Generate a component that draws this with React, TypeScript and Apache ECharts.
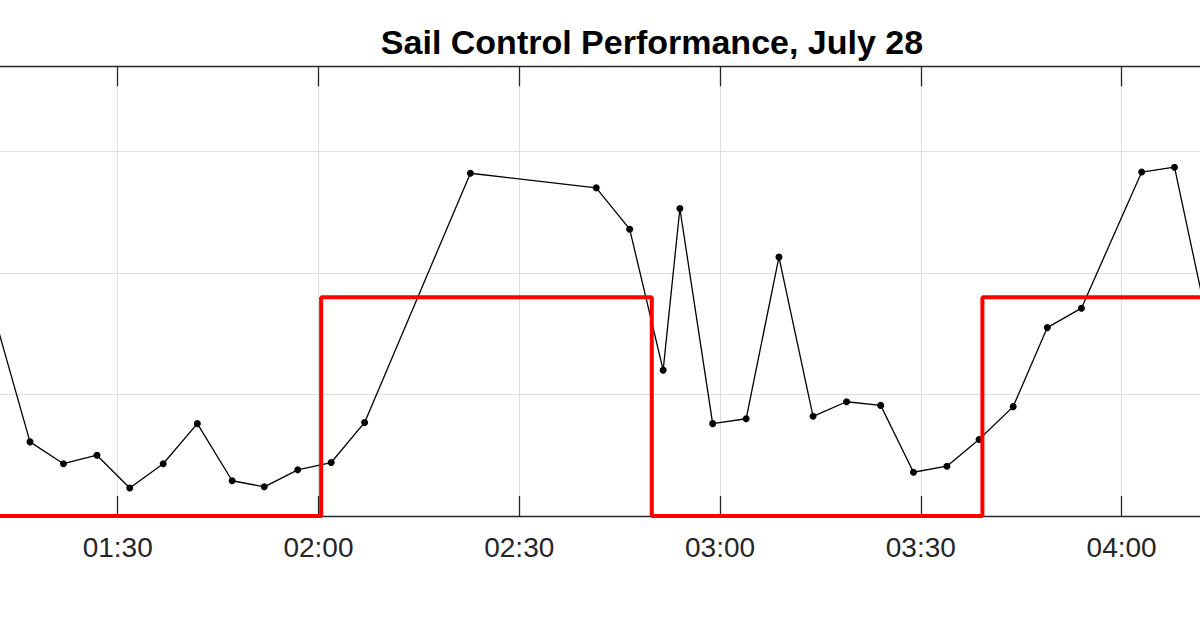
import * as echarts from "echarts";
import React, { useEffect, useRef } from "react";

// minutes after midnight
const sampleMinutes = [
    71.9, 76.9, 81.9, 86.9, 91.8, 96.8, 101.9, 107.1, 111.9, 116.9, 121.9, 126.9, 142.7, 161.5, 166.5, 171.5,
    174.0, 178.9, 183.9, 188.8, 193.9, 198.9, 204.0, 208.9, 213.9, 218.7, 223.8, 228.9, 234.0, 243.0, 247.9, 252.9,
];
const performance = [
    1.58, 0.61, 0.43, 0.5, 0.23, 0.43, 0.76, 0.29, 0.24, 0.38, 0.44, 0.77, 2.82, 2.7, 2.36, 1.2,
    2.53, 0.76, 0.8, 2.13, 0.82, 0.94, 0.91, 0.36, 0.41, 0.63, 0.9, 1.55, 1.71, 2.83, 2.87, 1.58,
];

// sail control on/off (step changes)
const controlMinutes = [60, 120.4, 169.8, 219.2, 270];
const controlLevel = [0, 1.8, 0, 1.8, 1.8];

const X_MIN = 60;
const X_MAX = 270;
const X_STEP = 30;

const FONT = "'Liberation Sans', Arial, Helvetica, sans-serif";
const INK = "#262626";

const hhmm = (m: number) => {
    const h = Math.floor(m / 60);
    const mm = Math.round(m % 60);
    return `${String(h).padStart(2, "0")}:${String(mm).padStart(2, "0")}`;
};

const SailControlChart: React.FC = () => {
    const chartRef = useRef<HTMLDivElement>(null);

    useEffect(() => {
        if (!chartRef.current) return;
        const chart = echarts.init(chartRef.current, undefined, { renderer: "svg" });

        const baseX = {
            type: "value" as const,
            min: X_MIN,
            max: X_MAX,
            interval: X_STEP,
            axisLine: { show: true, lineStyle: { color: INK, width: 1.3 } },
            axisTick: { show: true, inside: true, length: 20, lineStyle: { color: INK, width: 1.3 } },
        };

        chart.setOption({
            animation: false,
            textStyle: { fontFamily: FONT },
            // plot box runs past both page edges, like the cropped original
            grid: {
                left: -83.1,
                right: -122.4,
                top: 66.3,
                bottom: 114,
                containLabel: false,
                outerBoundsMode: "none",
            },
            graphic: [
                {
                    type: "text",
                    x: 652,
                    y: 42,
                    style: {
                        text: "Sail Control Performance, July 28",
                        fill: "#000",
                        font: `bold 34px ${FONT}`,
                        textAlign: "center",
                        textVerticalAlign: "middle",
                    },
                },
            ],
            xAxis: [
                {
                    ...baseX,
                    position: "bottom",
                    axisLabel: {
                        color: INK,
                        fontSize: 28,
                        fontFamily: FONT,
                        margin: 17,
                        showMinLabel: false,
                        showMaxLabel: false,
                        formatter: (v: number) => hhmm(v),
                    },
                    splitLine: { show: true, lineStyle: { color: "#dedede", width: 1 } },
                },
                {
                    ...baseX,
                    position: "top",
                    axisLabel: { show: false },
                    splitLine: { show: false },
                },
            ],
            yAxis: {
                type: "value",
                min: 0,
                max: 3.7,
                interval: 1,
                axisLine: { show: false },
                axisTick: { show: false },
                axisLabel: { show: false },
                splitLine: { show: true, lineStyle: { color: "#dedede", width: 1 } },
            },
            series: [
                {
                    name: "Performance",
                    type: "line",
                    xAxisIndex: 0,
                    data: sampleMinutes.map((m, i) => [m, performance[i]]),
                    symbol: "circle",
                    symbolSize: 7,
                    lineStyle: { color: "#000", width: 1.3 },
                    itemStyle: { color: "#000" },
                    z: 2,
                },
                {
                    name: "Control",
                    type: "line",
                    xAxisIndex: 0,
                    step: "end",
                    data: controlMinutes.map((m, i) => [m, controlLevel[i]]),
                    showSymbol: false,
                    symbol: "none",
                    lineStyle: { color: "#ff0000", width: 4 },
                    z: 3,
                },
            ],
        });

        const handleResize = () => chart.resize();
        window.addEventListener("resize", handleResize);
        return () => { chart.dispose(); window.removeEventListener("resize", handleResize); };
    }, []);

    return (
        <div
            ref={chartRef}
            style={{ position: "fixed", left: 0, top: 0, width: 1200, height: 630, background: "#fff" }}
        />
    );
};

export default function App() {
    return <SailControlChart />;
}
